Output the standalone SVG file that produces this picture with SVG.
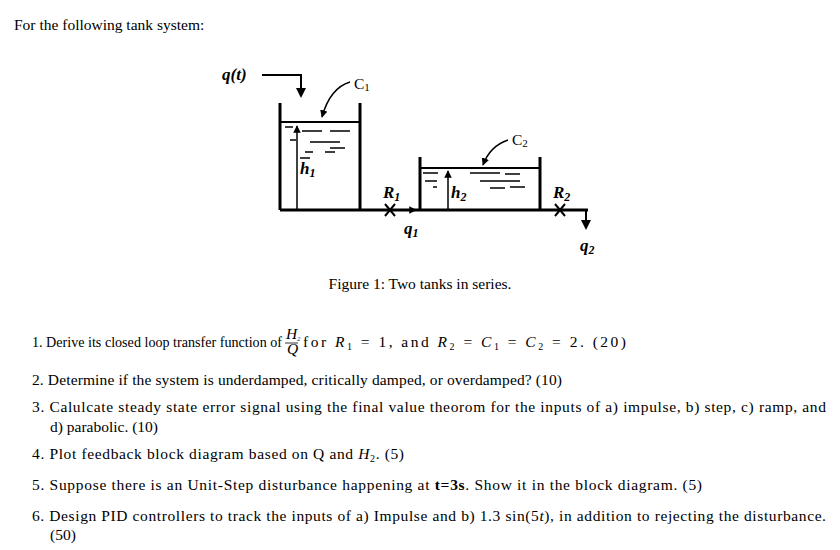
<svg xmlns="http://www.w3.org/2000/svg" width="840" height="550" viewBox="0 0 840 550">
<style>
text{font-family:"Liberation Serif","DejaVu Serif",serif;font-size:15.5px;fill:#000}
.it{font-style:italic}
.lb{font-family:"Liberation Serif",serif;font-weight:bold;font-style:italic;font-size:17px}
.w{stroke:#000;stroke-width:3;fill:none}
.t{stroke:#000;stroke-width:2;fill:none}
.s{stroke:#000;stroke-width:1.5;fill:none}
</style>
<defs>
<marker id="ah" viewBox="0 0 10 10" refX="9" refY="5" markerWidth="5" markerHeight="5" orient="auto"><path d="M0,0L10,5L0,10z" fill="#000"/></marker>
</defs>
<rect width="840" height="550" fill="#fff"/>
<text x="14" y="30">For the following tank system:</text>

<g id="tank1">
<path class="w" d="M280,103V210M360,103V210"/>
<path class="t" d="M281,122H359"/>
<path class="s" d="M285,127h8M302,131h20M330,131h20M290,140h6M310,142h30M330,148h15M305,152h8M325,152h10"/>
<path class="s" d="M297,210V126" marker-end="url(#ah)"/>
<path d="M300,158h10" stroke="#000" stroke-width="1.5"/>
<text class="lb" x="300" y="174">h<tspan font-size="12" dy="3">1</tspan></text>
</g>
<g id="tank2">
<path class="w" d="M420,157V210M540,157V210"/>
<path class="t" d="M421,168H539"/>
<path class="s" d="M423,173h15M425,181h12M470,173h30M505,174h15M480,181h40M490,188h15M510,187h15M433,187h4"/>
<path class="s" d="M448,210V171" marker-end="url(#ah)"/>
<text class="lb" x="451" y="198">h<tspan font-size="12" dy="3">2</tspan></text>
</g>
<g id="connectors">
<path class="w" d="M280,210H588"/>
<path class="s" d="M390,210h26" marker-end="url(#ah)"/>
<path class="t" d="M586,210V222"/>
<path fill="#000" d="M581,220L591,220L586,230z"/>
<path class="t" d="M385,204l10,12M395,204l-10,12M555,204l10,12M565,204l-10,12"/>
<path class="t" d="M262,75H301V90"/>
<path fill="#000" d="M296,88L306,88L301,98z"/>
<path class="s" d="M350,82Q330,88 322,117" marker-end="url(#ah)"/>
<path class="s" d="M508,140Q490,146 483,165" marker-end="url(#ah)"/>
</g>
<text class="lb" x="222" y="80">q(t)</text>
<text x="354" y="89" font-size="17">C<tspan font-size="11" dy="2">1</tspan></text>
<text x="512" y="145" font-size="17">C<tspan font-size="11" dy="2">2</tspan></text>
<text class="lb" x="383" y="198">R<tspan font-size="12" dy="3">1</tspan></text>
<text class="lb" x="404" y="234">q<tspan font-size="12" dy="3">1</tspan></text>
<text class="lb" x="553" y="198">R<tspan font-size="12" dy="3">2</tspan></text>
<text class="lb" x="580" y="251">q<tspan font-size="12" dy="3">2</tspan></text>

<text x="420" y="289" text-anchor="middle">Figure 1: Two tanks in series.</text>

<text x="32" y="347" font-size="15" textLength="250" lengthAdjust="spacingAndGlyphs">1. Derive its closed loop transfer function of</text>
<text class="it" x="286" y="339" font-size="9">H<tspan font-size="6" dy="2">2</tspan></text>
<path d="M285,343H298" stroke="#000" stroke-width="0.8"/>
<text class="it" x="287" y="354" font-size="9">Q</text>
<text x="303" y="347" textLength="323" lengthAdjust="spacing">for <tspan class="it">R</tspan><tspan font-size="10" dy="3">1</tspan><tspan dy="-3"> = 1, and </tspan><tspan class="it">R</tspan><tspan font-size="10" dy="3">2</tspan><tspan dy="-3"> = </tspan><tspan class="it">C</tspan><tspan font-size="10" dy="3">1</tspan><tspan dy="-3"> = </tspan><tspan class="it">C</tspan><tspan font-size="10" dy="3">2</tspan><tspan dy="-3"> = 2. (20)</tspan></text>
<text x="32" y="385" textLength="530" lengthAdjust="spacing">2. Determine if the system is underdamped, critically damped, or overdamped? (10)</text>
<text x="32" y="412" textLength="794" lengthAdjust="spacing">3. Calulcate steady state error signal using the final value theorom for the inputs of a) impulse, b) step, c) ramp, and</text>
<text x="50" y="432">d) parabolic. (10)</text>
<text x="32" y="459" textLength="372" lengthAdjust="spacing">4. Plot feedback block diagram based on Q and <tspan class="it">H</tspan><tspan font-size="10" dy="3">2</tspan><tspan dy="-3">. (5)</tspan></text>
<text x="32" y="490" textLength="670" lengthAdjust="spacing">5. Suppose there is an Unit-Step disturbance happening at <tspan font-weight="bold">t=3s</tspan>. Show it in the block diagram. (5)</text>
<text x="32" y="521" textLength="794" lengthAdjust="spacing">6. Design PID controllers to track the inputs of a) Impulse and b) 1.3 sin(5<tspan class="it">t</tspan>), in addition to rejecting the disturbance.</text>
<text x="50" y="540">(50)</text>
</svg>
